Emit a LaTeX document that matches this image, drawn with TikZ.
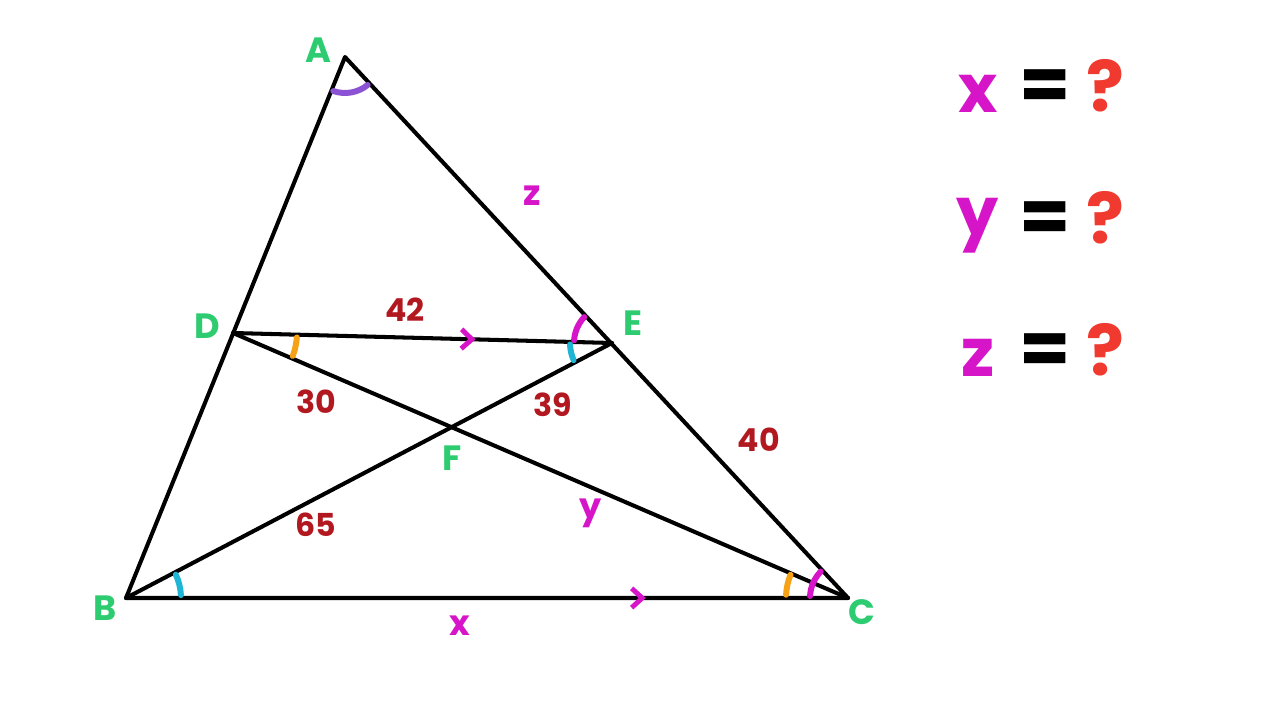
\documentclass[tikz,border=0pt]{standalone}
\usepackage{fontspec}
\setmainfont{Poppins}
\usetikzlibrary{arrows.meta,decorations.markings}
\definecolor{ptgreen}{RGB}{46,204,113}
\definecolor{varpink}{RGB}{214,20,200}
\definecolor{numred}{RGB}{178,24,32}
\definecolor{qred}{RGB}{240,58,48}
\definecolor{angpurple}{RGB}{140,82,212}
\definecolor{angcyan}{RGB}{30,182,212}
\definecolor{angorange}{RGB}{246,162,22}
\tikzset{
  vlabel/.style={text=ptgreen,font=\fontsize{20}{24}\selectfont\bfseries},
  nlabel/.style={text=numred,font=\fontsize{18}{22}\selectfont\bfseries},
  xlabel/.style={text=varpink,font=\fontsize{20}{24}\selectfont\bfseries},
  angmark/.style={line width=3.4pt,#1},
  parallel/.style={postaction={decorate},decoration={markings,
    mark=at position #1 with {\arrow[varpink,line width=2.8pt]{Straight Barb[length=6pt,width=11pt]}}}},
  big/.style={font=\fontsize{38}{44}\selectfont\bfseries}
}
\begin{document}
\begin{tikzpicture}[x=.02cm,y=.02cm,line cap=round,line join=round]
    \useasboundingbox (0,0) rectangle (1280,720);
    \coordinate (A) at (345,663);
    \coordinate (B) at (126,122);
    \coordinate (C) at (848,122);
    \coordinate (D) at (233,387);
    \coordinate (E) at (612,377);
    \coordinate (F) at (intersection of D--C and B--E);
    % triangle and cevians
    \draw[line width=2.3pt] (A)--(B)--(C)--cycle;
    \draw[line width=2.3pt] (D)--(C);
    \draw[line width=2.3pt] (B)--(E);
    \draw[line width=2.3pt,parallel=.64] (D)--(E);
    \draw[line width=2.3pt,parallel=.72] (B)--(C);
    % angles
    \draw[angmark=angpurple] (A) ++(251:36) arc (251:309:36);
    \draw[angmark=angorange] (D) ++(-21:64) arc (-21:-4:64);
    \draw[angmark=varpink] (E) ++(137:38) arc (137:176:38);
    \draw[angmark=angcyan] (E) ++(182:42) arc (182:204:42);
    \draw[angmark=angcyan] (B) ++(3:55) arc (3:25:55);
    \draw[angmark=angorange] (C) ++(158:62) arc (158:177:62);
    \draw[angmark=varpink] (C) ++(136:38) arc (136:177:38);
    % points
    \node[vlabel] (lA) at (318,670) {A};
    \node[vlabel] (lB) at (105,112) {B};
    \node[vlabel] (lC) at (862,108) {C};
    \node[vlabel] (lD) at (207,394) {D};
    \node[vlabel] (lE) at (633,397) {E};
    \node[vlabel] (lF) at (452,262) {F};
    % lengths
    \node[nlabel] (n42) at (405,410) {42};
    \node[nlabel] (n30) at (316,318) {30};
    \node[nlabel] (n39) at (553,315) {39};
    \node[nlabel] (n65) at (316,195) {65};
    \node[nlabel] (n40) at (759,280) {40};
    \node[xlabel] (vz) at (532,524) {z};
    \node[xlabel] (vy) at (591,207) {y};
    \node[xlabel] (vx) at (460,94) {x};
    % questions
    \foreach \v/\h in {x/626,y/494,z/362}{
      \node[big,text=varpink] (q\v) at (978,\h) {\v};
      \node[big,font=\fontsize{42}{48}\selectfont\bfseries] (e\v) at (1045,\h+4) {=};
      \node[big,text=qred,font=\fontsize{40}{46}\selectfont\bfseries] (m\v) at (1105,\h+8) {?};
    }
\end{tikzpicture}
\end{document}
